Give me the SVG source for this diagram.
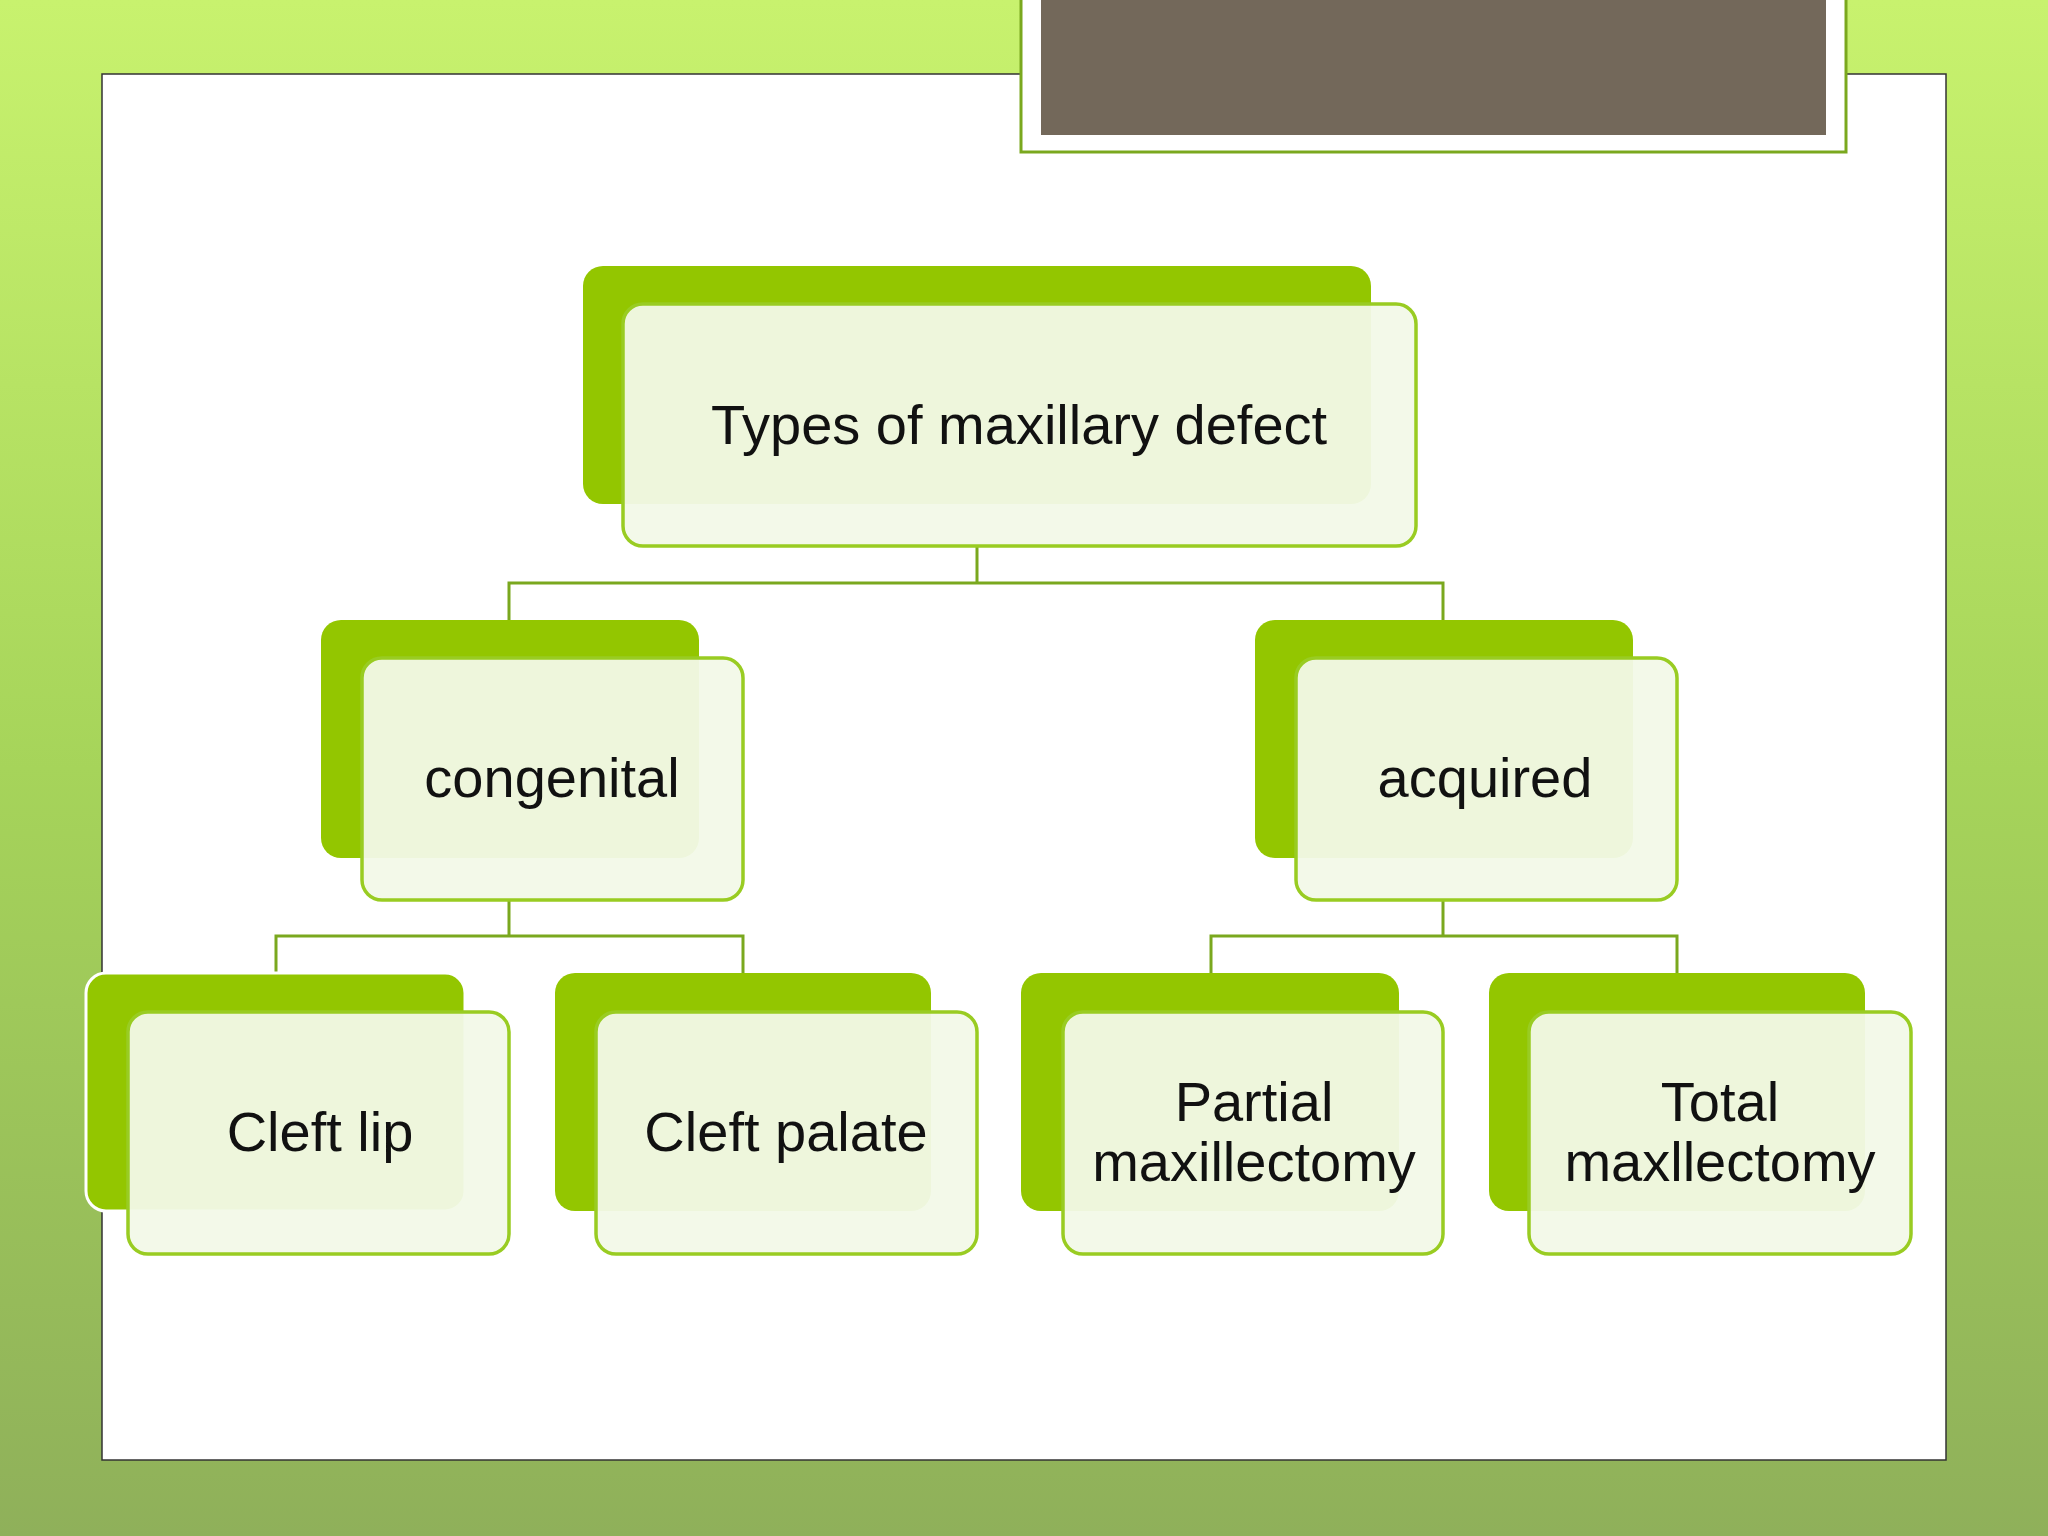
<svg xmlns="http://www.w3.org/2000/svg" width="2048" height="1536" viewBox="0 0 2048 1536">
<defs>
<linearGradient id="bg" x1="0" y1="0" x2="0" y2="1">
<stop offset="0" stop-color="#c8f26e"/><stop offset="0.5" stop-color="#a6d45a"/><stop offset="1" stop-color="#8fb05a"/>
</linearGradient>
<style>
.back{fill:#93c600}
.front{fill:#f2f9e8;fill-opacity:0.95;stroke:#99cc22;stroke-width:3.5}
.t{font-family:"Liberation Sans",Arial,sans-serif;font-size:56px;fill:#111;text-anchor:middle}
.c{fill:none;stroke:#7aa81e;stroke-width:3}
</style>
</defs>
<rect width="2048" height="1536" fill="url(#bg)"/>
<rect x="102" y="74" width="1844" height="1386" fill="#fff" stroke="#333" stroke-width="1.5"/>
<rect x="1021" y="-5" width="825" height="157" fill="#fff" stroke="#7aa81e" stroke-width="3"/>
<rect x="1041" y="-5" width="785" height="140" fill="#73685a"/>
<g id="connectors">
<path class="c" d="M977 546V583M509 620V583H1443V620M509 900V936M276 973V936H743V973M1443 900V936M1211 973V936H1677V973"/>
</g>
<g id="root"><rect class="back" x="583" y="266" width="788" height="238" rx="20"/><rect class="front" x="623" y="304" width="793" height="242" rx="20"/><text class="t" x="1019" y="444">Types of maxillary defect</text></g>
<g id="congenital"><rect class="back" x="321" y="620" width="378" height="238" rx="20"/><rect class="front" x="362" y="658" width="381" height="242" rx="20"/><text class="t" x="552" y="797">congenital</text></g>
<g id="acquired"><rect class="back" x="1255" y="620" width="378" height="238" rx="20"/><rect class="front" x="1296" y="658" width="381" height="242" rx="20"/><text class="t" x="1485" y="797">acquired</text></g>
<g id="cleftlip"><rect class="back" x="86" y="973" width="379" height="238" rx="20" stroke="#fff" stroke-width="3"/><rect class="front" x="128" y="1012" width="381" height="242" rx="20"/><text class="t" x="320" y="1151">Cleft lip</text></g>
<g id="cleftpalate"><rect class="back" x="555" y="973" width="376" height="238" rx="20"/><rect class="front" x="596" y="1012" width="381" height="242" rx="20"/><text class="t" x="786" y="1151">Cleft palate</text></g>
<g id="partial"><rect class="back" x="1021" y="973" width="378" height="238" rx="20"/><rect class="front" x="1063" y="1012" width="380" height="242" rx="20"/><text class="t" x="1254" y="1121">Partial</text><text class="t" x="1254" y="1181">maxillectomy</text></g>
<g id="total"><rect class="back" x="1489" y="973" width="376" height="238" rx="20"/><rect class="front" x="1529" y="1012" width="382" height="242" rx="20"/><text class="t" x="1720" y="1121">Total</text><text class="t" x="1720" y="1181">maxllectomy</text></g>
</svg>
